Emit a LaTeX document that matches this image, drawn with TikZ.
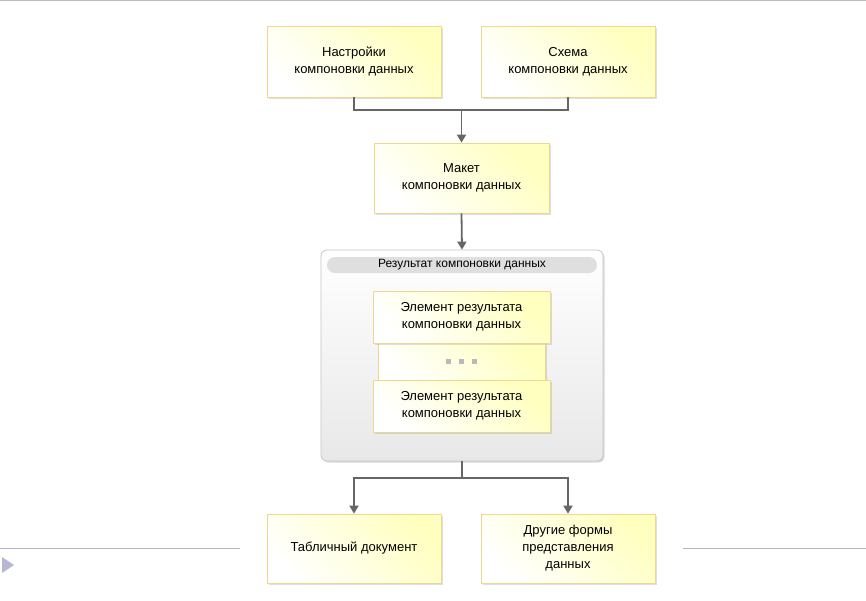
\documentclass[tikz,border=0pt]{standalone}
\usepackage{fontspec}
\setmainfont{Liberation Sans}
\usetikzlibrary{shadows,arrows.meta}
\begin{document}
\begin{tikzpicture}[x=1pt,y=-1pt,
  yb/.style={draw=yellow!45!brown!55, line width=0.8pt, top color=white, bottom color=yellow!25, shading angle=135, drop shadow={shadow xshift=1.5pt,shadow yshift=-1.5pt,opacity=0.25}, align=center, font=\fontsize{13}{17}\selectfont, inner sep=0pt},
  conn/.style={draw=gray!80!black, line width=1.8pt},
  arr/.style={conn, -{Triangle[length=8pt,width=9pt]}}]
\useasboundingbox (0,0) rectangle (866,600);
\fill[white] (0,0) rectangle (866,600);
\draw[gray!50] (0,0.5) -- (866,0.5);
\draw[blue!20!gray!50] (0,548) -- (240,548);
\draw[blue!20!gray!50] (683,548) -- (866,548);
\fill[blue!25!gray!45] (2,557) -- (14,565) -- (2,573) -- cycle;
\node[yb, minimum width=174pt, minimum height=71pt] (n1) at (354,61.5) {Настройки\\компоновки данных};
\node[yb, minimum width=174pt, minimum height=71pt] (n2) at (568,61.5) {Схема\\компоновки данных};
\node[yb, minimum width=175pt, minimum height=70pt] (m) at (461.5,178) {Макет\\компоновки данных};
\node[draw=gray!45, rounded corners=6pt, line width=0.8pt, top color=white, bottom color=gray!18, drop shadow={shadow xshift=1.5pt,shadow yshift=-1.5pt,opacity=0.3}, minimum width=282pt, minimum height=211pt] (r) at (462,355.5) {};
\node[fill=gray!25, rounded corners=8pt, minimum width=270pt, minimum height=16pt, inner sep=0pt, font=\fontsize{12}{14}\selectfont] (h) at (462,265) {Результат компоновки данных};
\node[yb, minimum width=167pt, minimum height=37pt] (d) at (461.5,361.5) {\textcolor{gray!55}{\rule{5pt}{5pt}\hspace{8pt}\rule{5pt}{5pt}\hspace{8pt}\rule{5pt}{5pt}}};
\node[yb, minimum width=177pt, minimum height=52pt] (e1) at (461.5,317) {Элемент результата\\компоновки данных};
\node[yb, minimum width=177pt, minimum height=52pt] (e2) at (461.5,406) {Элемент результата\\компоновки данных};
\node[yb, minimum width=174pt, minimum height=69pt] (t) at (354,548.5) {Табличный документ};
\node[yb, minimum width=174pt, minimum height=69pt] (o) at (568,548.5) {Другие формы\\представления\\данных};
\coordinate (j1) at (461.5,110);
\coordinate (j2) at (462,478);
\draw[conn] (n1.south) |- (j1) -| (n2.south);
\draw[arr] (j1) -- (m.north);
\draw[arr] (m.south) -- (r.north);
\draw[conn] (r.south) -- (j2);
\draw[arr] (j2) -| (t.north);
\draw[arr] (j2) -| (o.north);
\end{tikzpicture}
\end{document}
